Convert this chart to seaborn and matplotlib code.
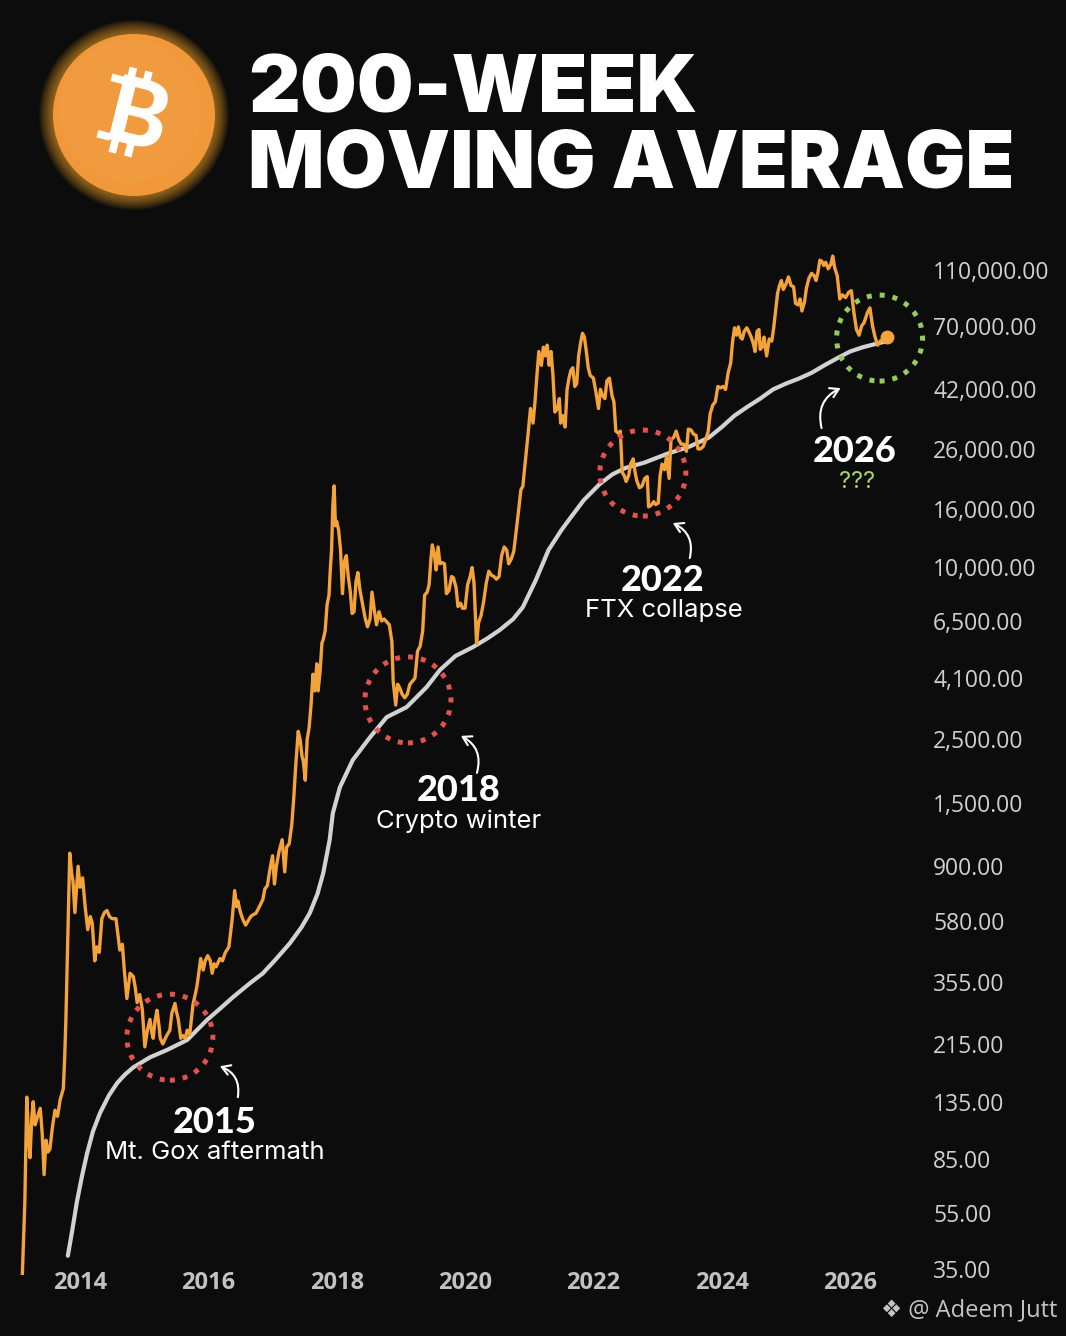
import numpy as np
import pandas as pd
import matplotlib
matplotlib.use("Agg")
import matplotlib.pyplot as plt
import seaborn as sns
from matplotlib.patches import Circle
from matplotlib.lines import Line2D
from matplotlib.transforms import IdentityTransform
import matplotlib.ticker as mticker

# ---------------- data ----------------
price_year = [
    2013.10, 2013.14, 2013.17, 2013.20, 2013.22, 2013.25, 2013.27, 2013.30, 2013.33, 2013.38,
    2013.41, 2013.44, 2013.47, 2013.50, 2013.53, 2013.57, 2013.61, 2013.65, 2013.69, 2013.74,
    2013.76, 2013.78, 2013.81, 2013.84, 2013.87, 2013.89, 2013.92, 2013.95, 2013.97,
    2014.00, 2014.04, 2014.08, 2014.12, 2014.16, 2014.19, 2014.23, 2014.26, 2014.30, 2014.34,
    2014.38, 2014.42, 2014.46, 2014.50, 2014.56, 2014.60, 2014.62, 2014.66, 2014.69, 2014.73,
    2014.76, 2014.78, 2014.83, 2014.86, 2014.89, 2014.93, 2014.97,
    2015.01, 2015.05, 2015.09, 2015.12, 2015.14, 2015.17, 2015.20, 2015.23, 2015.25, 2015.29,
    2015.33, 2015.36, 2015.40, 2015.43, 2015.48, 2015.50, 2015.53, 2015.57, 2015.60, 2015.64,
    2015.67, 2015.71, 2015.76, 2015.82, 2015.85, 2015.88, 2015.92, 2015.95, 2015.99,
    2016.03, 2016.06, 2016.09, 2016.12, 2016.18, 2016.22, 2016.26, 2016.32, 2016.37, 2016.41,
    2016.44, 2016.46, 2016.50, 2016.54, 2016.58, 2016.62, 2016.66, 2016.70, 2016.74, 2016.78,
    2016.81, 2016.85, 2016.88, 2016.92, 2016.96,
    2017.00, 2017.03, 2017.06, 2017.10, 2017.15, 2017.19, 2017.22, 2017.26, 2017.30, 2017.33,
    2017.36, 2017.40, 2017.43, 2017.46, 2017.48, 2017.51, 2017.54, 2017.57, 2017.60, 2017.63,
    2017.66, 2017.69, 2017.71, 2017.74, 2017.77, 2017.79, 2017.82, 2017.85, 2017.88, 2017.90,
    2017.92, 2017.94, 2017.96, 2017.98,
    2018.00, 2018.03, 2018.06, 2018.09, 2018.12, 2018.15, 2018.18, 2018.21, 2018.24, 2018.27,
    2018.30, 2018.33, 2018.36, 2018.40, 2018.44, 2018.48, 2018.52, 2018.55, 2018.59, 2018.62,
    2018.66, 2018.70, 2018.74, 2018.78, 2018.82, 2018.86, 2018.88, 2018.92, 2018.95, 2018.98,
    2019.02, 2019.06, 2019.10, 2019.14, 2019.18, 2019.22, 2019.26, 2019.30, 2019.34, 2019.37,
    2019.41, 2019.44, 2019.47, 2019.49, 2019.52, 2019.55, 2019.58, 2019.61, 2019.64, 2019.68,
    2019.71, 2019.75, 2019.79, 2019.82, 2019.86, 2019.89, 2019.93, 2019.96,
    2020.00, 2020.04, 2020.08, 2020.11, 2020.14, 2020.18, 2020.21, 2020.25, 2020.29, 2020.33,
    2020.37, 2020.41, 2020.45, 2020.49, 2020.53, 2020.57, 2020.61, 2020.65, 2020.68, 2020.72,
    2020.76, 2020.79, 2020.83, 2020.87, 2020.90, 2020.94, 2020.98,
    2021.02, 2021.06, 2021.09, 2021.12, 2021.15, 2021.19, 2021.22, 2021.25, 2021.28, 2021.31,
    2021.34, 2021.37, 2021.40, 2021.44, 2021.47, 2021.49, 2021.52, 2021.56, 2021.59, 2021.62,
    2021.65, 2021.68, 2021.71, 2021.74, 2021.77, 2021.80, 2021.83, 2021.86, 2021.89, 2021.92,
    2021.95,
    2022.00, 2022.04, 2022.08, 2022.11, 2022.14, 2022.18, 2022.21, 2022.25, 2022.29, 2022.32,
    2022.35, 2022.39, 2022.42, 2022.45, 2022.48, 2022.51, 2022.55, 2022.58, 2022.62, 2022.65,
    2022.68, 2022.72, 2022.76, 2022.80, 2022.84, 2022.86, 2022.90, 2022.94, 2022.97,
    2023.01, 2023.04, 2023.07, 2023.11, 2023.14, 2023.18, 2023.21, 2023.25, 2023.29, 2023.33,
    2023.37, 2023.41, 2023.45, 2023.48, 2023.52, 2023.56, 2023.60, 2023.63, 2023.67, 2023.71,
    2023.75, 2023.79, 2023.82, 2023.86, 2023.90, 2023.94, 2023.98,
    2024.02, 2024.06, 2024.10, 2024.14, 2024.17, 2024.20, 2024.23, 2024.26, 2024.29, 2024.32,
    2024.35, 2024.39, 2024.42, 2024.46, 2024.49, 2024.52, 2024.55, 2024.58, 2024.60, 2024.63,
    2024.66, 2024.70, 2024.74, 2024.78, 2024.81, 2024.84, 2024.87, 2024.90, 2024.93, 2024.96,
    2025.00, 2025.04, 2025.08, 2025.12, 2025.15, 2025.19, 2025.22, 2025.25, 2025.29, 2025.32,
    2025.36, 2025.40, 2025.44, 2025.47, 2025.50, 2025.53, 2025.56, 2025.59, 2025.62, 2025.66,
    2025.70, 2025.73, 2025.76, 2025.80, 2025.84, 2025.88, 2025.93, 2025.98,
    2026.02, 2026.06, 2026.10, 2026.14, 2026.18, 2026.22, 2026.27, 2026.31, 2026.35, 2026.39,
    2026.43, 2026.47, 2026.52, 2026.58,
]
price_usd = [
    33, 60, 140, 100, 86, 120, 135, 112, 118, 128,
    105, 75, 99, 90, 92, 110, 126, 120, 137, 150,
    190, 263, 520, 1000, 850, 800, 620, 780, 900,
    760, 820, 650, 540, 600, 570, 420, 470, 450, 590,
    620, 630, 600, 590, 590, 500, 458, 480, 390, 310,
    350, 380, 370, 340, 300, 320, 285,
    210, 240, 262, 235, 225, 260, 282, 250, 225, 215,
    225, 232, 240, 275, 298, 280, 263, 225, 230, 225,
    240, 232, 295, 340, 380, 428, 390, 420, 438,
    420, 380, 410, 400, 428, 420, 447, 470, 585, 740,
    650, 680, 620, 585, 560, 580, 600, 610, 615, 640,
    660, 690, 750, 770, 880,
    980, 780, 900, 1010, 1115, 860, 1050, 1080, 1260, 1550,
    2000, 2670, 2500, 2180, 2100, 1800, 2500, 2750, 3300, 4230,
    3700, 4600, 3700, 4300, 5440, 5600, 6000, 7400, 8000, 9800,
    11500, 16500, 19300, 14000,
    14500, 13500, 11500, 8100, 10500, 11000, 9300, 8300, 6900, 7000,
    8900, 9600, 8400, 7500, 6700, 6200, 6600, 8200, 7000, 6300,
    7000, 6500, 6600, 6450, 6300, 5500, 4000, 3300, 3900, 3800,
    3600, 3500, 3600, 3900, 4000, 4100, 5100, 5300, 6000, 8000,
    8200, 8700, 10800, 12000, 11200, 9800, 11800, 10300, 10400, 10300,
    8100, 8300, 9300, 9200, 8500, 7300, 7500, 7200,
    7200, 8700, 9300, 10000, 8800, 5400, 6400, 6800, 7600, 8800,
    9700, 9400, 9300, 9100, 9300, 11000, 11800, 11500, 10300, 10700,
    11400, 13000, 15500, 18700, 19200, 23500, 29000,
    36000, 32000, 38000, 47000, 57000, 51000, 59000, 55000, 60000, 51000,
    57000, 47000, 35000, 36000, 39000, 32000, 34000, 31000, 42000, 46000,
    49000, 50000, 43000, 44000, 55000, 61000, 66000, 64000, 57000, 50000,
    47000,
    46000, 41000, 36000, 42000, 40000, 39000, 45000, 46000, 40000, 38000,
    30000, 29500, 30000, 21500, 21000, 20000, 21000, 23000, 24000, 21500,
    20000, 19000, 19300, 20500, 20800, 16300, 16500, 17000, 16600,
    16800, 21000, 23000, 22000, 24500, 20500, 28000, 28500, 30000, 28000,
    27000, 27000, 25500, 30500, 30300, 29300, 29000, 26000, 26000, 26500,
    28000, 30000, 34500, 37000, 38000, 43000, 42500,
    43000, 42000, 48000, 52000, 62000, 69000, 65000, 69500, 64000, 63000,
    67000, 69000, 67000, 64000, 61000, 57000, 67000, 68000, 58000, 59000,
    64000, 55000, 63000, 62000, 69000, 79000, 91000, 97000, 101000, 94000,
    98000, 104000, 97000, 96000, 84000, 83000, 87000, 79000, 85000, 95000,
    103000, 107000, 105000, 101000, 108000, 119000, 118000, 114000, 117000, 111000,
    115000, 123000, 112000, 105000, 87000, 90000, 88000, 92000,
    93000, 78000, 68000, 65000, 70000, 72000, 78000, 81000, 70000, 64000,
    60000, 62000, 63000, 64000,
]

ma_year = [
    2013.81, 2013.88, 2013.95, 2014.03, 2014.11, 2014.20, 2014.31, 2014.45, 2014.58, 2014.70,
    2014.83, 2015.09, 2015.36, 2015.67, 2015.98, 2016.20, 2016.38, 2016.65, 2016.85, 2017.05,
    2017.27, 2017.45, 2017.58, 2017.70, 2017.79, 2017.89, 2017.94, 2018.05, 2018.25, 2018.52,
    2018.78, 2019.09, 2019.40, 2019.61, 2019.85, 2020.12, 2020.35, 2020.54, 2020.75, 2020.90,
    2021.10, 2021.30, 2021.50, 2021.65, 2021.85, 2022.10, 2022.30, 2022.50, 2022.80, 2023.15,
    2023.50, 2023.80, 2024.00, 2024.20, 2024.40, 2024.60, 2024.80, 2025.00, 2025.20, 2025.40,
    2025.60, 2025.80, 2026.00, 2026.20, 2026.45, 2026.58,
]
ma_usd = [
    39, 48, 60, 74, 89, 106, 123, 142, 157, 168,
    178, 193, 205, 222, 261, 288, 313, 351, 380, 425,
    484, 550, 617, 720, 851, 1112, 1381, 1702, 2118, 2547,
    2994, 3245, 3811, 4380, 4900, 5260, 5650, 6040, 6600, 7260,
    9000, 11500, 13500, 15000, 17200, 19600, 21200, 22300, 23300, 25000,
    26500, 28500, 31000, 34000, 36500, 39000, 42000, 44000, 45800, 48000,
    51000, 54000, 57000, 59000, 61000, 62000,
]

ytick_values = [35, 55, 85, 135, 215, 355, 580, 900, 1500, 2500, 4100, 6500,
                10000, 16000, 26000, 42000, 70000, 110000]
xtick_years = [2014, 2016, 2018, 2020, 2022, 2024, 2026]

event_year = [2015.40, 2019.11, 2022.77, 2026.46]
event_price = [227, 3440, 21400, 63500]
event_title = ["2015", "2018", "2022", "2026"]
event_note = ["Mt. Gox aftermath", "Crypto winter", "FTX collapse", "???"]

title_lines = ["200-WEEK", "MOVING AVERAGE"]
watermark = "❖ @ Adeem Jutt"

# ---------------- styling ----------------
W, H, DPI = 1066, 1336, 100
BG = "#0c0c0c"
ORANGE = "#f4a23a"
GREY = "#d2d2d2"

sns.set_theme(style="dark", rc={"axes.facecolor": BG, "figure.facecolor": BG})
plt.rcParams["font.family"] = ["Open Sans", "DejaVu Sans"]

fig = plt.figure(figsize=(W / DPI, H / DPI), dpi=DPI, facecolor=BG)

ax = fig.add_axes([0 / W, 1 - 1275 / H, 915 / W, (1275 - 240) / H])
ax.set_facecolor("none")

price_df = pd.DataFrame({"year": price_year, "price": price_usd})
ma_df = pd.DataFrame({"year": ma_year, "ma": ma_usd})

sns.lineplot(data=ma_df, x="year", y="ma", ax=ax, color=GREY, linewidth=3.0,
             zorder=2, sort=True)
sns.lineplot(data=price_df, x="year", y="price", ax=ax, color=ORANGE, linewidth=2.4,
             zorder=3, sort=True)
ax.plot([price_year[-1]], [price_usd[-1]], marker="o", markersize=9,
        color=ORANGE, zorder=4)

ax.set_yscale("log")
ax.set_ylim(33.4, 140000)
ax.set_xlim(2012.753, 2027.012)

ax.yaxis.tick_right()
ax.set_yticks(ytick_values)
ax.yaxis.set_minor_locator(mticker.NullLocator())
ax.set_yticklabels([f"{v:,.2f}" for v in ytick_values])
ax.tick_params(axis="y", length=0, pad=13, labelsize=16.5, labelcolor="#d0d0d0")
ax.set_xticks(xtick_years)
ax.set_xticklabels([str(y) for y in xtick_years], fontweight="bold")
ax.tick_params(axis="x", length=0, pad=-3, labelsize=17, labelcolor="#c2c2c2")
ax.grid(False)
for s in ax.spines.values():
    s.set_visible(False)
ax.set_xlabel("")
ax.set_ylabel("")

# ---------------- title ----------------
renderer = fig.canvas.get_renderer()
title_font = ["Inter", "DejaVu Sans"]
t2 = fig.text(248 / W, 1 - 187 / H, title_lines[1], fontsize=60, fontweight="black",
              family=title_font, color="white", ha="left", va="baseline")
w = t2.get_window_extent(renderer).width
fs = 60 * 766 / w
t2.set_fontsize(fs)
fig.text(248 / W, 1 - 112 / H, title_lines[0], fontsize=fs, fontweight="black",
         family=title_font, color="white", ha="left", va="baseline")

# ---------------- bitcoin logo ----------------
cx, cy, R = 134, H - 115, 81
for k in range(14, 0, -1):
    fig.add_artist(Circle((cx, cy), R + k, transform=IdentityTransform(),
                          color="#ffab30", alpha=0.055, lw=0))
fig.add_artist(Circle((cx, cy), R, transform=IdentityTransform(), color="#f0983a", lw=0))
fig.add_artist(Circle((cx - 4, cy + 4), R - 10, transform=IdentityTransform(),
                      color="#f3a04a", alpha=0.45, lw=0))

phi = np.deg2rad(14)


def logo_pt(u, v):
    return (cx + u * np.cos(phi) + v * np.sin(phi),
            cy - u * np.sin(phi) + v * np.cos(phi))


B_PT = 66
cap_px = 0.7165 * B_PT * DPI / 72
bx, by = logo_pt(4, 2 - cap_px / 2)
fig.text(bx / W, by / H, "B", fontsize=B_PT, fontweight="black", rotation=-14,
         rotation_mode="anchor", family=["Lato", "DejaVu Sans"], color="white",
         ha="center", va="baseline")
top = 2 + cap_px / 2
bot = 2 - cap_px / 2
for u in (-12, 4):
    for v0, v1 in ((top - 5, top + 11), (bot - 11, bot + 5)):
        p0, p1 = logo_pt(u, v0), logo_pt(u, v1)
        fig.add_artist(Line2D([p0[0], p1[0]], [p0[1], p1[1]], transform=IdentityTransform(),
                              color="white", lw=5.5, solid_capstyle="butt"))
for v in (top - 3.8, bot + 3.8):
    p0, p1 = logo_pt(-31, v), logo_pt(-18, v)
    fig.add_artist(Line2D([p0[0], p1[0]], [p0[1], p1[1]], transform=IdentityTransform(),
                          color="white", lw=5.5, solid_capstyle="butt"))

# ---------------- event annotations ----------------
PT = 0.72  # px -> points at 100 dpi
circle_colors = ["#e4524d", "#e4524d", "#e4524d", "#95cc5e"]
title_off = [(45, 85), (51, 91), (20, 107), (-25, 113)]
note_off = [(45, 115), (51, 121), (21, 137), (-23, 144)]
arrow_tail = [(68, 60), (69, 73), (47, 85), (-58, 90)]
arrow_tip = [(50, 29), (53, 36), (30, 50), (-39, 50)]
arrow_rad = [0.4, 0.4, 0.4, -0.4]
note_color = ["white", "white", "white", "#a6d86c"]
note_size = [18.5, 18.5, 18.5, 17]

for i in range(len(event_year)):
    px, py = ax.transData.transform((event_year[i], event_price[i]))
    fig.add_artist(Circle((px, py), 43, transform=IdentityTransform(), fill=False,
                          ec=circle_colors[i], lw=3.6, linestyle=(0, (1, 1.6)),
                          capstyle="butt", zorder=5))
    ax.annotate(event_title[i], xy=(event_year[i], event_price[i]), xycoords="data",
                xytext=(title_off[i][0] * PT, -title_off[i][1] * PT),
                textcoords="offset points", ha="center", va="center",
                fontsize=26, fontweight="black", family=["Lato", "DejaVu Sans"],
                color="white", annotation_clip=False, zorder=6)
    ax.annotate(event_note[i], xy=(event_year[i], event_price[i]), xycoords="data",
                xytext=(note_off[i][0] * PT, -note_off[i][1] * PT),
                textcoords="offset points", ha="center", va="center",
                fontsize=note_size[i], family=["Inter", "DejaVu Sans"],
                color=note_color[i], annotation_clip=False, zorder=6)
    tip = (px + arrow_tip[i][0], py - arrow_tip[i][1])
    tail = (px + arrow_tail[i][0], py - arrow_tail[i][1])
    ax.annotate("", xy=tip, xycoords="figure pixels", xytext=tail,
                textcoords="figure pixels", annotation_clip=False,
                arrowprops=dict(arrowstyle="->,head_length=0.5,head_width=0.3",
                                color="white", lw=1.5, shrinkA=0, shrinkB=0,
                                connectionstyle=f"arc3,rad={arrow_rad[i]}"))

# ---------------- watermark ----------------
fig.text(1057 / W, 1 - 1310 / H, watermark, fontsize=17, color="#c4c4c4",
         family=["Open Sans", "DejaVu Sans"], ha="right", va="center")

fig.savefig("out.png", dpi=DPI, facecolor=BG)
